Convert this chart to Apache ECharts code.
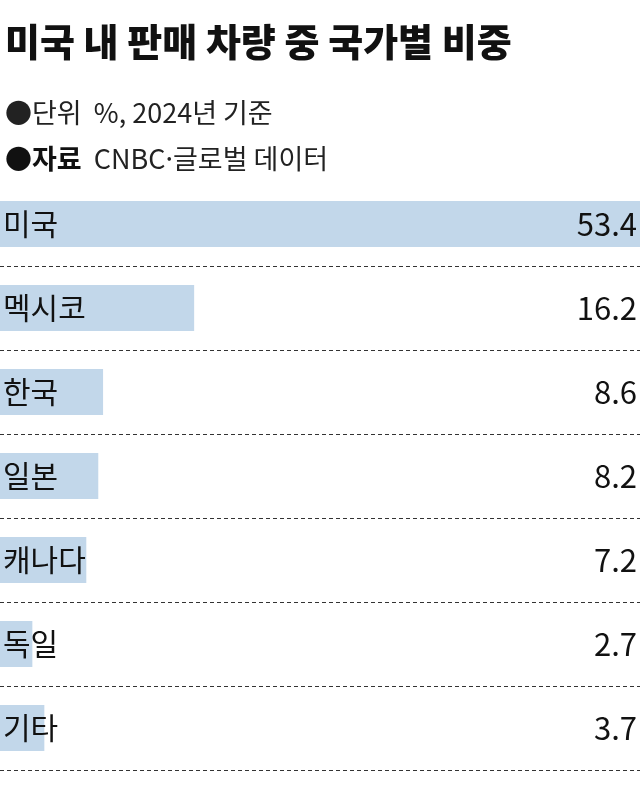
<!DOCTYPE html>
<html lang="ko">
<head>
<meta charset="UTF-8">
<script src="https://cdn.jsdelivr.net/npm/echarts@6/dist/echarts.min.js"></script>
</head>
<body style="margin:0;background:#fff">
<div id="main" style="width:640px;height:796px;"></div>
<script>
const categories = ['미국', '멕시코', '한국', '일본', '캐나다', '독일', '기타'];
const values = [53.4, 16.2, 8.6, 8.2, 7.2, 2.7, 3.7];
const valueLabels = ['53.4', '16.2', '8.6', '8.2', '7.2', '2.7', '3.7'];

const font = '"Noto Sans CJK KR", "Noto Sans", sans-serif';
const chart = echarts.init(document.getElementById('main'));
chart.setOption({
  backgroundColor: '#fff',
  textStyle: { fontFamily: font },
  title: [
    { text: '미국 내 판매 차량 중 국가별 비중', left: 0, top: 18,
      textStyle: { fontSize: 38, fontWeight: 900, color: '#111', fontFamily: font } },
    { text: '●단위  %, 2024년 기준', left: 0, top: 94,
      textStyle: { fontSize: 27, fontWeight: 'normal', color: '#222', fontFamily: font } },
    { text: '{b|●자료}  CNBC·글로벌 데이터', left: 0, top: 140,
      textStyle: { fontSize: 27, fontWeight: 'normal', color: '#222', fontFamily: font,
        rich: { b: { fontSize: 27, fontWeight: 'bold', color: '#111', fontFamily: font } } } }
  ],
  grid: { left: 0, right: 0, top: 182, bottom: 26 },
  xAxis: { type: 'value', min: 0, max: 53.4, show: false },
  yAxis: [
    { type: 'category', data: categories, inverse: true,
      axisLine: { show: false }, axisTick: { show: false },
      axisLabel: { inside: true, fontSize: 30, color: '#111', margin: 3 },
      splitLine: { show: true, interval: (i) => i > 0,
        lineStyle: { type: [4, 3], color: '#333', width: 1 } },
      z: 10 },
    { type: 'category', data: valueLabels, inverse: true, position: 'right',
      axisLine: { show: false }, axisTick: { show: false },
      axisLabel: { inside: true, fontSize: 31, color: '#111', margin: 3 }, z: 10 }
  ],
  series: [{
    type: 'bar', data: values, barWidth: 46,
    itemStyle: { color: '#c2d7ea' }, silent: true
  }]
});
</script>
</body>
</html>
